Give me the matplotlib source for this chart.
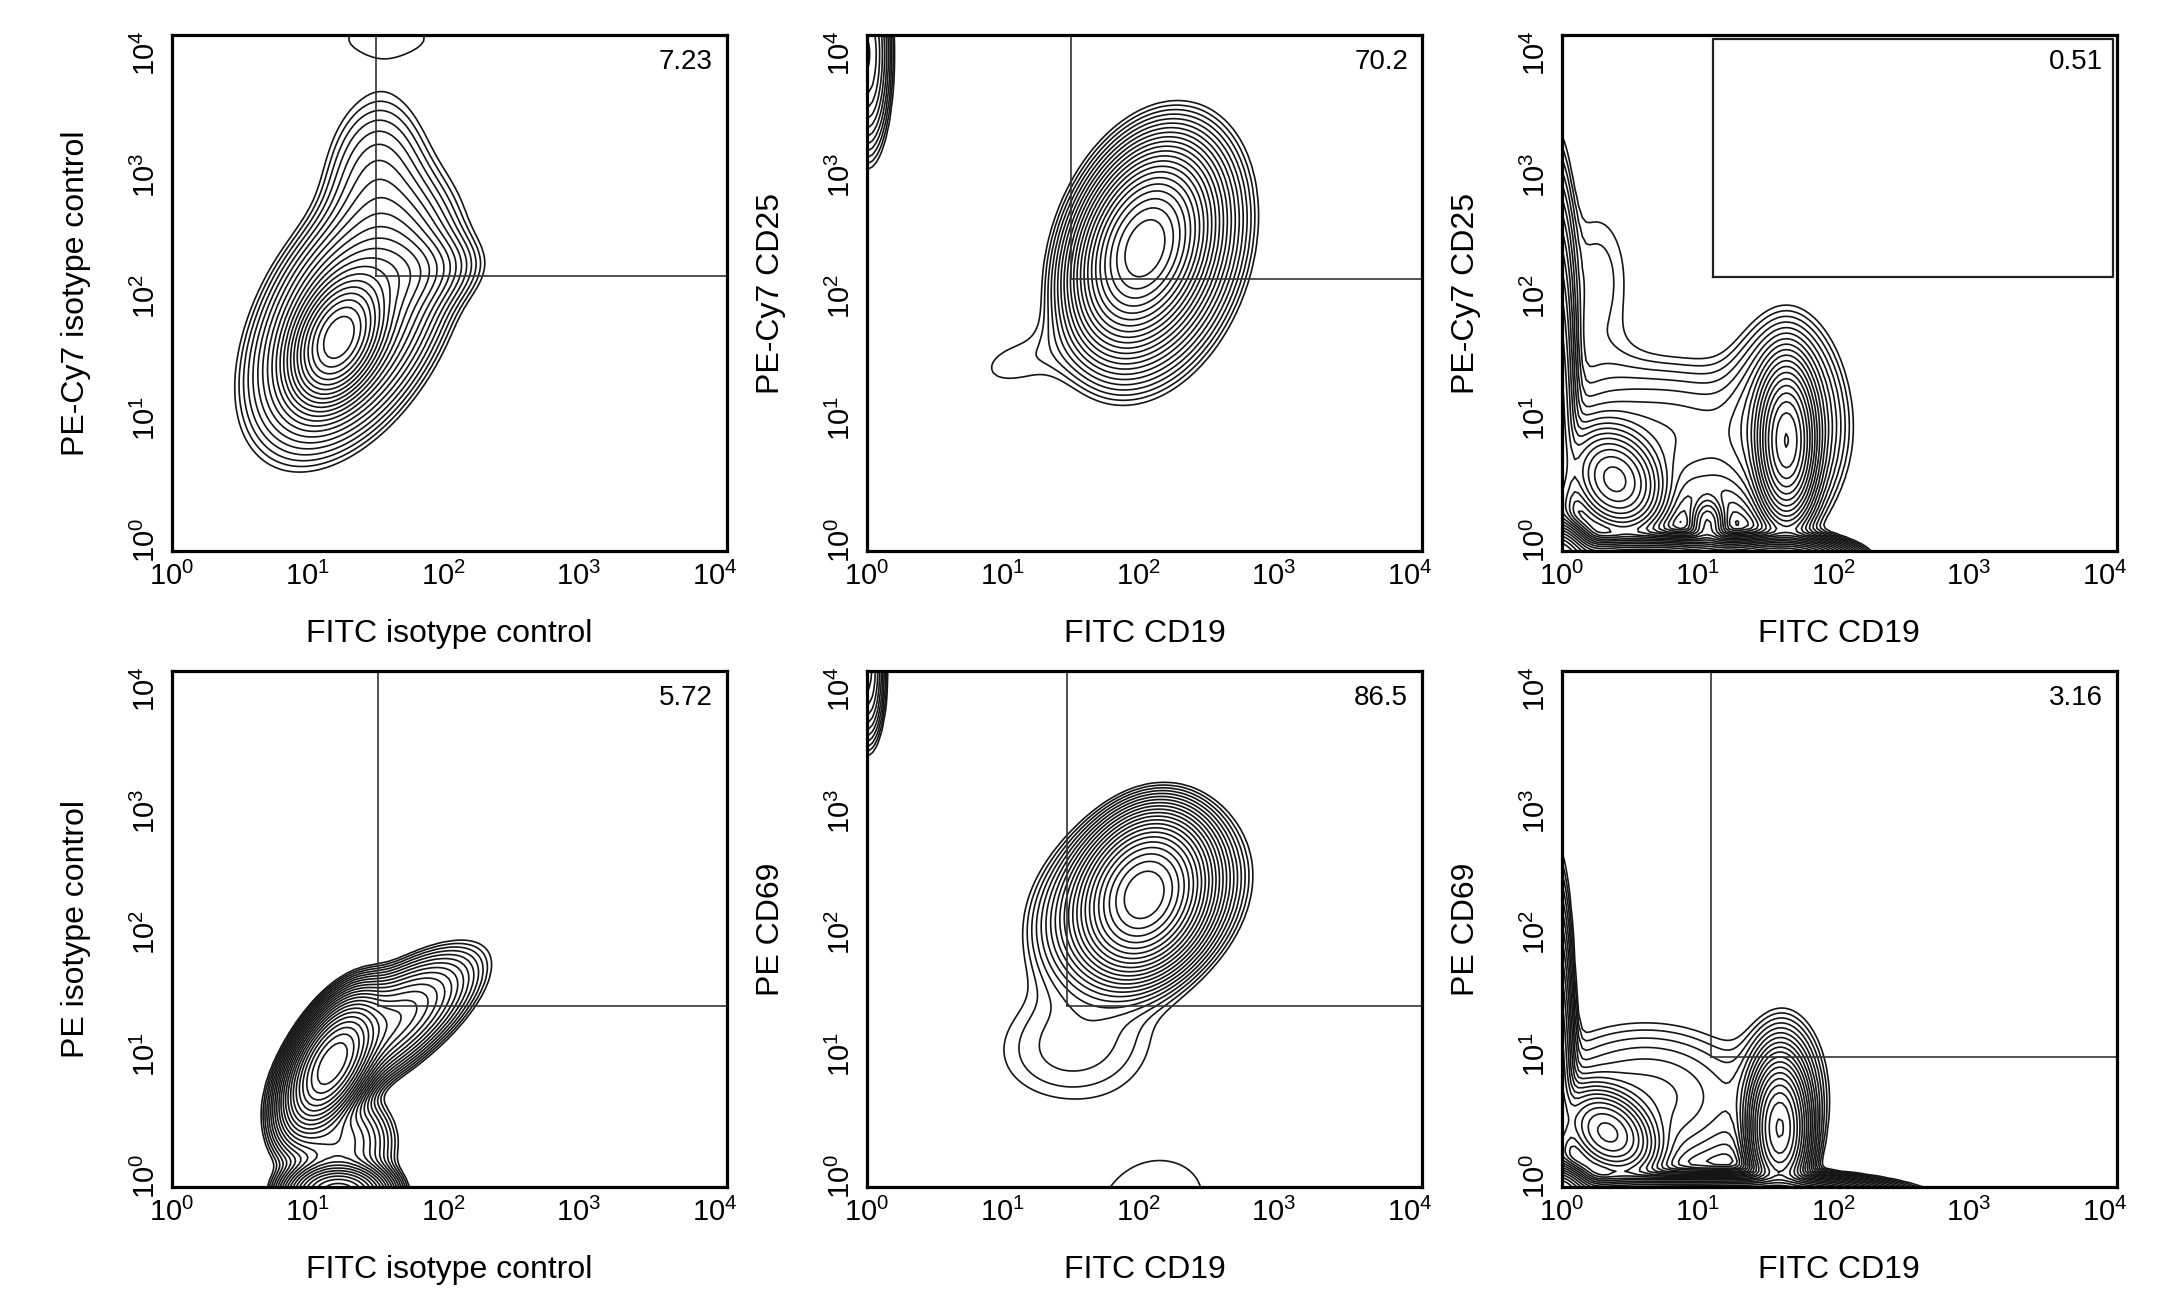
import numpy as np
import matplotlib
matplotlib.use("Agg")
import matplotlib.pyplot as plt
from matplotlib.ticker import LogLocator, LogFormatterSciNotation, NullLocator

plt.rcParams['font.family'] = ['Liberation Sans', 'DejaVu Sans']
plt.rcParams['mathtext.fontset'] = 'custom'
plt.rcParams['mathtext.rm'] = 'Liberation Sans'
plt.rcParams['mathtext.it'] = 'Liberation Sans:italic'
plt.rcParams['mathtext.bf'] = 'Liberation Sans:bold'

##########################################
# panel texts
x_labels = ['FITC isotype control', 'FITC CD19', 'FITC CD19',
            'FITC isotype control', 'FITC CD19', 'FITC CD19']
y_labels = ['PE-Cy7 isotype control', 'PE-Cy7 CD25', 'PE-Cy7 CD25',
            'PE isotype control', 'PE CD69', 'PE CD69']
gate_pct = ['7.23', '70.2', '0.51', '5.72', '86.5', '3.16']

# display range in decades (the cytometer scale runs a little past 10^4)
x_range = (0.0, 4.09)
y_range = (-0.09, 4.15)

# gate corners (fluorescence units)
gate_x = [31.7, 31.7, 12.9, 33, 29.7, 12.6]
gate_y = [147, 140, 144, 24.8, 24.8, 9.5]
gate_box = [False, False, True, False, False, False]
box_right, box_top = 11500, 13200

# cell populations:
# (log10 x centre, log10 y centre, sd x, sd y, corr, peak height)
pops_1 = [(1.227, 1.659, 0.15, 0.23, 0.35, 1.00),
          (1.329, 1.818, 0.33, 0.48, 0.45, 0.15),
          (1.687, 2.189, 0.29, 0.17, 0.20, 0.03),
          (1.500, 2.950, 0.22, 0.42, 0.10, 0.02),
          (1.585, 4.130, 0.50, 0.20, 0.00, 0.0054)]
pops_2 = [(2.045, 2.401, 0.20, 0.32, 0.30, 1.00),
          (2.096, 2.348, 0.30, 0.47, 0.25, 0.15),
          (1.074, 1.450, 0.30, 0.22, 0.30, 0.0055),
          (0.000, 3.991, 0.09, 0.42, 0.00, 0.06)]
pops_3 = [(-0.05, -0.143, 0.12, 0.13, 0.00, 3.0),
          (-0.03, 0.970, 0.07, 0.95, 0.00, 0.25),
          (0.613, -0.175, 0.46, 0.085, 0.00, 1.5),
          (1.636, -0.175, 0.22, 0.085, 0.00, 1.2),
          (0.389, 0.493, 0.17, 0.21, -0.20, 0.5),
          (1.656, 0.811, 0.10, 0.30, 0.00, 0.9),
          (1.656, 0.970, 0.22, 0.45, 0.00, 0.1),
          (1.074, 0.122, 0.07, 0.13, 0.00, 0.08),
          (0.716, 0.864, 0.61, 0.37, 0.00, 0.05),
          (0.256, 2.136, 0.22, 0.53, 0.00, 0.017)]
pops_4 = [(1.176, 0.917, 0.15, 0.24, 0.55, 1.00),
          (1.560, 1.220, 0.31, 0.28, 0.72, 0.12),
          (1.227, -0.143, 0.17, 0.11, 0.00, 0.5),
          (1.227, 0.281, 0.20, 0.21, 0.00, 0.05)]
pops_5 = [(2.045, 2.316, 0.20, 0.27, 0.20, 1.00),
          (1.994, 2.242, 0.33, 0.34, 0.25, 0.12),
          (1.534, 1.076, 0.46, 0.37, 0.10, 0.009),
          (2.096, -0.249, 0.49, 0.48, 0.20, 0.0063),
          (0.000, 4.150, 0.07, 0.32, 0.00, 0.05)]
pops_6 = [(-0.05, -0.143, 0.12, 0.11, 0.00, 3.0),
          (-0.03, 0.758, 0.06, 0.80, 0.00, 0.2),
          (0.818, -0.175, 0.61, 0.075, 0.00, 1.5),
          (1.636, -0.175, 0.31, 0.075, 0.00, 1.0),
          (0.337, 0.355, 0.17, 0.18, -0.30, 0.45),
          (1.605, 0.387, 0.10, 0.27, 0.00, 0.9),
          (0.614, 0.652, 0.51, 0.37, 0.00, 0.04),
          (1.636, 0.652, 0.17, 0.37, 0.00, 0.06)]
##########################################

panels = [pops_1, pops_2, pops_3, pops_4, pops_5, pops_6]


def density(pops, gx, gy):
    z = np.zeros_like(gx)
    for mx, my, sx, sy, r, w in pops:
        dx = (gx - mx) / sx
        dy = (gy - my) / sy
        z += w * np.exp(-0.5 * (dx * dx - 2 * r * dx * dy + dy * dy) / (1 - r * r))
    return z


g = np.linspace(-0.6, 4.6, 188)
gx, gy = np.meshgrid(g, g)
inside = ((gx >= x_range[0]) & (gx <= x_range[1]) &
          (gy >= y_range[0]) & (gy <= y_range[1]))

fig = plt.figure(figsize=(21.6, 13.16), dpi=100)
lefts = [0.0796, 0.4014, 0.7231]
bottoms = [0.5813, 0.098]
w, h = 0.2569, 0.3921

for n in range(6):
    ax = fig.add_axes([lefts[n % 3], bottoms[n // 3], w, h])
    z = density(panels[n], gx, gy)
    zmax = z[inside].max()
    levels = zmax * 0.78 ** np.arange(22, 0, -1)
    ax.contour(10 ** gx, 10 ** gy, z, levels=levels, colors='#151515', linewidths=1.2)

    ax.set_xscale('log')
    ax.set_yscale('log')
    ax.set_xlim(10 ** x_range[0], 10 ** x_range[1])
    ax.set_ylim(10 ** y_range[0], 10 ** y_range[1])
    for axis in (ax.xaxis, ax.yaxis):
        axis.set_major_locator(LogLocator(base=10, numticks=10))
        axis.set_major_formatter(LogFormatterSciNotation())
        axis.set_minor_locator(NullLocator())
    ax.tick_params(length=0, labelsize=21, pad=8)
    for lbl in ax.get_yticklabels():
        lbl.set_rotation(90)
        lbl.set_va('center')
    for s in ax.spines.values():
        s.set_linewidth(2.3)

    # gate
    gxv, gyv = gate_x[n], gate_y[n]
    top, right = 10 ** y_range[1], 10 ** x_range[1]
    if gate_box[n]:
        ax.plot([gxv, gxv, box_right, box_right, gxv],
                [gyv, box_top, box_top, gyv, gyv], color='#222222', lw=1.6)
    else:
        ax.plot([gxv, gxv], [gyv, top], color='#333333', lw=1.2)
        ax.plot([gxv, right], [gyv, gyv], color='#333333', lw=1.2)
    ax.text(0.975, 0.948, gate_pct[n], transform=ax.transAxes,
            ha='right', va='center', fontsize=20)

    ax.set_xlabel(x_labels[n], fontsize=23)
    ax.set_ylabel(y_labels[n], fontsize=23)
    ax.xaxis.set_label_coords(0.5, -0.161)
    ax.yaxis.set_label_coords(-0.173, 0.5)
    ax.xaxis.label.set_va('center')
    ax.yaxis.label.set_va('center')

fig.savefig('out.png', dpi=100, facecolor='white')
